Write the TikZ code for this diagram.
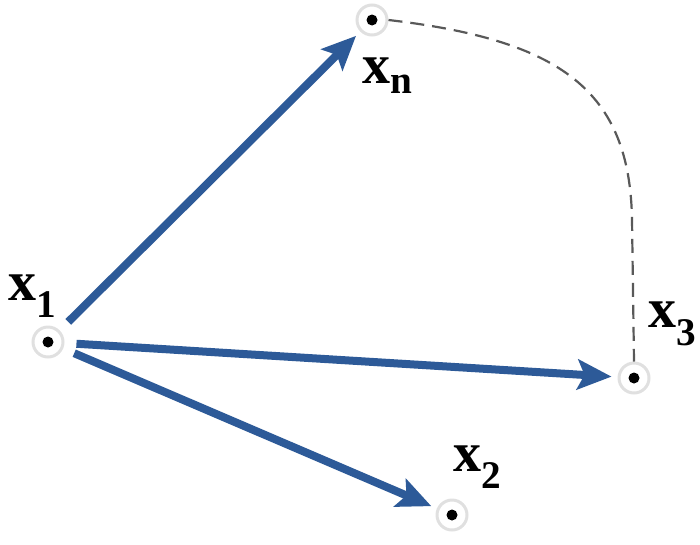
\documentclass[tikz,border=0pt]{standalone}
\usepackage{fontspec}
\setmainfont{Liberation Serif}
\usetikzlibrary{arrows.meta}
\definecolor{arrowblue}{HTML}{2D5A98}
\tikzset{
  pt/.style={circle,inner sep=0pt,minimum size=30pt,draw=black!12,line width=3pt,fill=white},
  dot/.style={circle,inner sep=0pt,minimum size=11pt,fill=black},
  lab/.style={font=\fontsize{56}{56}\selectfont\bfseries,inner sep=0pt},
  vec/.style={draw=arrowblue,line width=8pt,-{Stealth[length=34pt,width=30pt,inset=7pt]},shorten >=6pt,shorten <=12pt},
  dashline/.style={draw=black!65,line width=2.2pt,dash pattern=on 14pt off 8pt}
}
\begin{document}
\begin{tikzpicture}[x=1pt,y=-1pt]
\useasboundingbox (0,0) rectangle (700,544);
\node[pt] (p1) at (48,342) {};
\node[pt] (pn) at (372,20) {};
\node[pt] (p3) at (634,378) {};
\node[pt] (p2) at (452,515) {};
\foreach \n in {p1,pn,p3,p2} \node[dot] at (\n) {};
\node[lab] (l1) at (33,296) {x\textsubscript{1}};
\node[lab] (ln) at (388,76) {x\textsubscript{n}};
\node[lab] (l3) at (673,324) {x\textsubscript{3}};
\node[lab] (l2) at (478,467) {x\textsubscript{2}};
\coordinate (c1) at (560,40);
\coordinate (c2) at (630,90);
\coordinate (c3) at (632,220);
\draw[dashline] (pn.east) .. controls (c1) and (c2) .. (c3) -- (p3.north);
\draw[vec] (p1) -- (pn);
\draw[vec] (p1) -- (p3);
\draw[vec] (p1) -- (p2);
\end{tikzpicture}
\end{document}
